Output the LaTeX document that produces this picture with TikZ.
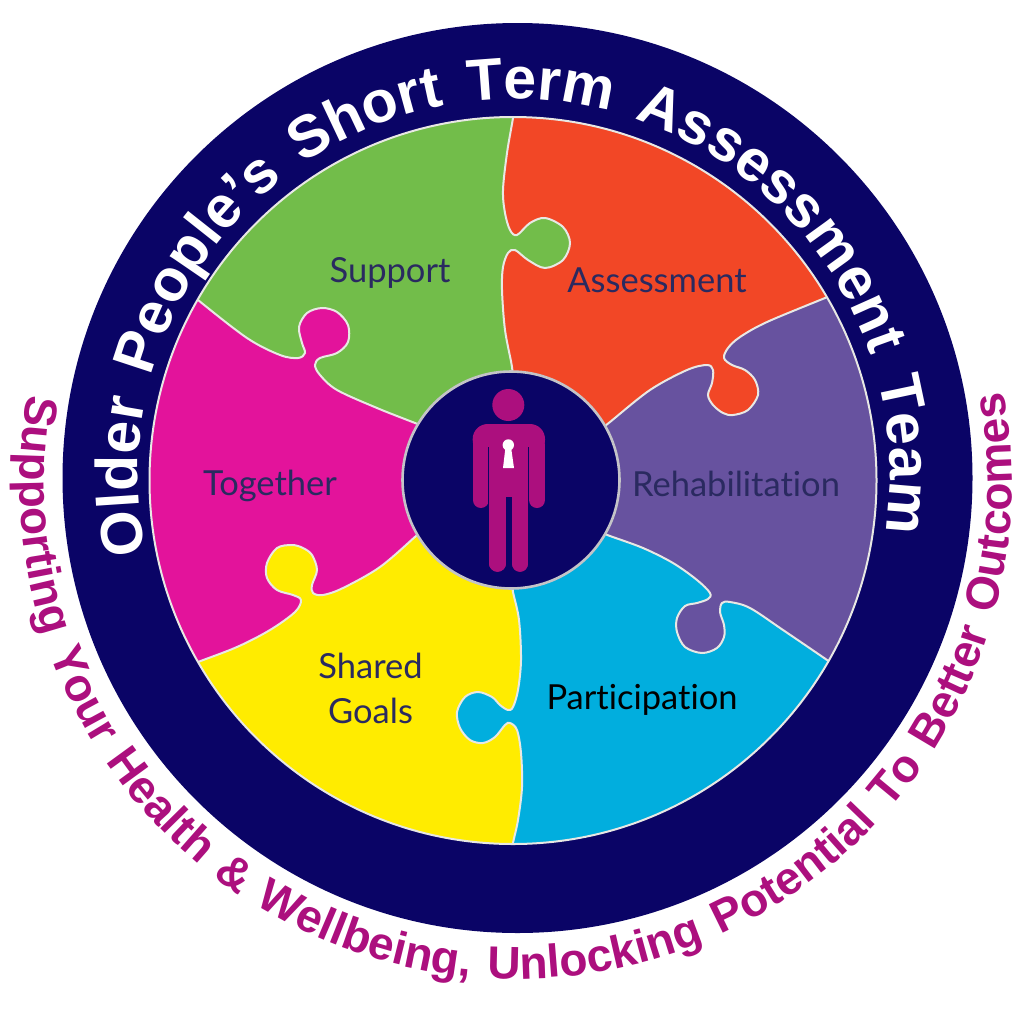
\documentclass[tikz,border=0pt]{standalone}
\usepackage{fontspec}
\setmainfont{Liberation Sans}
\newfontfamily\labelfont[Ligatures=NoCommon]{Lato}
\usetikzlibrary{decorations.text}
\definecolor{navy}{HTML}{0A0466}
\definecolor{pgreen}{HTML}{72BD4A}
\definecolor{porange}{HTML}{F24726}
\definecolor{ppurple}{HTML}{67529F}
\definecolor{pcyan}{HTML}{01AEDE}
\definecolor{pyellow}{HTML}{FFEC00}
\definecolor{pmagenta}{HTML}{E3139B}
\definecolor{person}{HTML}{AC0F7E}
\definecolor{labelnavy}{HTML}{2A2A60}
\definecolor{seamline}{HTML}{E8E8E4}
\definecolor{hubline}{HTML}{C4C4C8}
\tikzset{
  seamplot/.style={smooth,tension=0.55},
  seamdraw/.style={draw=seamline,line width=2pt},
  wheellabel/.style={font=\labelfont\fontsize{34.5}{45}\selectfont,text=labelnavy,anchor=base,inner sep=0pt,align=center},
  personlimb/.style={draw=person,line cap=round,line width=16.5pt},
}
% seams, each from the hub outwards
\newcommand{\seamA}{plot[seamplot] coordinates {(513,385) (512,367) (505,330) (502,290) (503,267) (508,253) (515,250) (528,260) (545,268) (563,260) (570,243) (563,227) (545,218) (530,223) (517,235) (510,230) (505,213) (503,190) (507,153) (513,118) (515,102)}}
\newcommand{\seamB}{plot[seamplot] coordinates {(600,430) (610,422) (650,390) (687,370) (707,365) (713,370) (712,383) (708,395) (713,405) (723,413) (733,415) (748,410) (758,395) (755,380) (745,370) (732,365) (724,358) (728,348) (740,337) (767,322) (825,298) (842,291)}}
\newcommand{\seamC}{plot[seamplot] coordinates {(600,532) (610,536) (643,548) (673,563) (697,580) (710,593) (708,599) (697,603) (685,606) (677,618) (677,632) (685,647) (702,653) (717,648) (724,637) (724,625) (720,612) (722,603) (730,602) (750,608) (783,630) (827,660) (842,671)}}
\newcommand{\seamD}{plot[seamplot] coordinates {(512,582) (513,592) (519,620) (521,660) (518,690) (513,707) (508,710) (500,705) (492,697) (478,692) (465,697) (457,712) (460,728) (470,740) (483,743) (495,737) (505,725) (510,723) (517,730) (521,753) (522,787) (518,820) (513,843) (511,857)}}
\newcommand{\seamE}{plot[seamplot] coordinates {(425,528) (416,536) (380,567) (343,588) (323,595) (313,593) (312,585) (317,570) (312,555) (303,548) (292,545) (277,548) (267,563) (267,578) (277,590) (293,595) (301,600) (295,612) (270,630) (237,647) (198,662) (184,668)}}
\newcommand{\seamF}{plot[seamplot] coordinates {(425,427) (415,423) (377,408) (337,390) (320,375) (315,365) (320,358) (337,353) (348,342) (348,325) (337,312) (322,308) (307,313) (299,327) (302,343) (305,353) (298,358) (280,355) (247,338) (198,300) (185,288)}}
\begin{document}
\begin{tikzpicture}[x=1pt,y=-1pt]
\useasboundingbox (0,0) rectangle (1024,1017);
\fill[white] (0,0) rectangle (1024,1017);
\coordinate (rc) at (517.5,478);
\coordinate (c) at (513,480.5);
\coordinate (tc) at (514,475);
\coordinate (oc) at (516,483);
% outer ring
\fill[navy] (rc) circle[radius=455pt];
% puzzle pieces, painted in turn up to one common cut through the green piece
\begin{scope}
  \clip (c) circle[radius=363.5pt];
  \fill[pgreen] (c) circle[radius=364pt];
  \fill[porange] \seamA -- (1100,-100) -- (1100,1100) -- (-100,1100) -- (-100,-100) -- (288,0) -- (c) -- cycle;
  \fill[ppurple] \seamB -- (1100,1100) -- (-100,1100) -- (-100,-100) -- (288,0) -- (c) -- cycle;
  \fill[pcyan] \seamC -- (1100,1100) -- (-100,1100) -- (-100,-100) -- (288,0) -- (c) -- cycle;
  \fill[pyellow] \seamD -- (-100,1100) -- (-100,-100) -- (288,0) -- (c) -- cycle;
  \fill[pmagenta] \seamE -- (-100,-100) -- (288,0) -- (c) -- cycle;
  \fill[pgreen] \seamF -- (288,0) -- (c) -- cycle;
  \draw[pgreen,line width=3pt] (c) -- (288,0);
  \path[seamdraw] \seamA;
  \path[seamdraw] \seamB;
  \path[seamdraw] \seamC;
  \path[seamdraw] \seamD;
  \path[seamdraw] \seamE;
  \path[seamdraw] \seamF;
\end{scope}
\draw[seamline,line width=2pt] (c) circle[radius=363.5pt];
% hub
\fill[navy,draw=hubline,line width=2.6pt] (511,480) circle[radius=108.5pt];
% person
\fill[person] (508.3,405) circle[radius=16pt];
\fill[person,rounded corners=15pt] (472.7,455) -- (472.7,424) -- (545,424) -- (545,455) -- cycle;
\fill[person] (472.7,445) rectangle (545,455);
\draw[personlimb,line width=16pt] (480.7,445) -- (480.7,500);
\draw[personlimb,line width=16pt] (537,445) -- (537,500);
\fill[person] (489.3,435) rectangle (528.3,505);
\draw[personlimb] (497.6,500) -- (497.6,563.5);
\draw[personlimb] (520,500) -- (520,563.5);
\fill[navy] (505.9,497) rectangle (511.7,566);
\draw[personlimb] (497.6,550) -- (497.6,563.5);
\draw[personlimb] (520,550) -- (520,563.5);
\draw[navy,line width=1pt] (488.8,447) -- (488.8,512);
\draw[navy,line width=1pt] (528.8,447) -- (528.8,512);
\fill[white] (508.3,445) circle[radius=5.7pt];
\fill[white] (505.5,447) -- (511,447) -- (514,468) -- (503,468) -- cycle;
% labels
\node[wheellabel] (support) at (390,282) {Support};
\node[wheellabel] (assessment) at (657,292) {Assessment};
\node[wheellabel] (rehab) at (736,496) {Rehabilitation};
\node[wheellabel] (together) at (270,495) {Together};
\node[wheellabel,anchor=center] (shared) at (370.5,688) {Shared\\Goals};
\node[wheellabel,text=black] (participation) at (642,709) {Participation};
% curved texts
\path[decorate,decoration={text along path,text align={fit to path stretching spaces},
  text={|\bfseries\fontsize{59}{66}\selectfont\color{white}|Older People’s Short Term Assessment Team}}]
  (tc) ++(192:376pt) arc[start angle=192,end angle=-8.8,radius=376pt];
\path[decorate,decoration={text along path,text align={fit to path stretching spaces},
  text={|\bfseries\fontsize{46}{52}\selectfont\color{person}|Supporting Your Health {\&} Wellbeing, Unlocking Potential To Better Outcomes}}]
  (oc) ++(169.7:496pt) arc[start angle=169.7,end angle=370.6,radius=496pt];
\end{tikzpicture}
\end{document}
